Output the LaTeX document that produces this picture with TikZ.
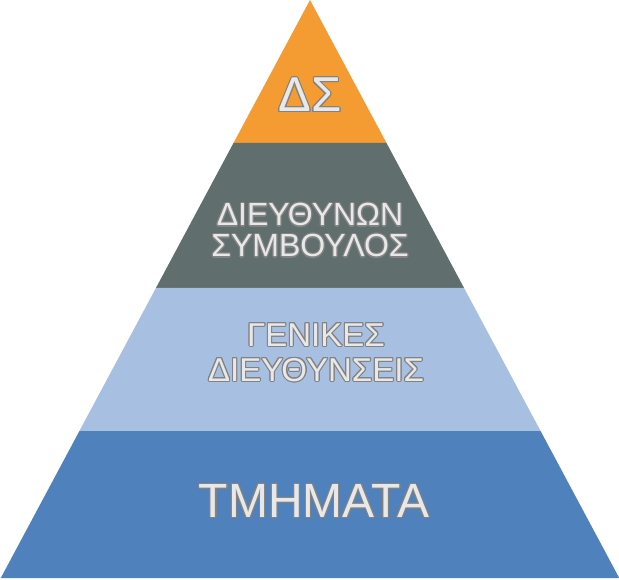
\documentclass[tikz,border=0pt]{standalone}
\usepackage{fontspec}
\setmainfont{Liberation Sans}
\usepackage{xcolor}
\definecolor{naranja}{RGB}{244, 155, 50}
\definecolor{grisOscuro}{RGB}{96, 111, 110}
\definecolor{azulClaro}{RGB}{167, 191, 224}
\definecolor{azul}{RGB}{79, 129, 189}
\definecolor{grisTexto}{RGB}{232, 232, 232}
\definecolor{grisBorde}{RGB}{130, 130, 130}
\usepackage{contour}
\contourlength{1.1pt}
\newcommand{\outl}[1]{\contour{grisBorde}{#1}}
\usepackage{tikz}
\usetikzlibrary{calc,positioning}
\tikzstyle{level}=[text=grisTexto, align=center, inner sep=0pt]

\begin{document}
\begin{tikzpicture}[x=1pt,y=-1pt]
    \useasboundingbox (0,0) rectangle (619,580);

    % pyramid bands, top to bottom
    \foreach \ya/\yb/\col in {0/143/naranja,143/288/grisOscuro,288/431/azulClaro,431/578/azul}
        \fill[\col] ({310-0.535*\ya},\ya) -- ({310+0.535*\ya},\ya)
            -- ({310+0.535*\yb},\yb) -- ({310-0.535*\yb},\yb) -- cycle;

    \node (ds) at (310,95.5) [level, font=\fontsize{49}{49}\selectfont] {\outl{ΔΣ}};
    \node (ceo) at (310,231) [level, font=\fontsize{32}{31}\selectfont]
        {\outl{ΔΙΕΥΘΥΝΩΝ}\\\outl{ΣΥΜΒΟΥΛΟΣ}};
    \node (gd) at (316,353) [level, font=\fontsize{33}{35}\selectfont]
        {\outl{ΓΕΝΙΚΕΣ}\\\outl{ΔΙΕΥΘΥΝΣΕΙΣ}};
    \node (tm) at (314,501.5) [level, font=\fontsize{48}{48}\selectfont] {\outl{ΤΜΗΜΑΤΑ}};

\end{tikzpicture}
\end{document}
